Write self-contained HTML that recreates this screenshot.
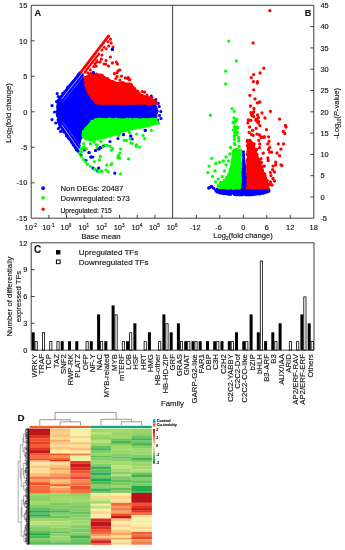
<!DOCTYPE html>
<html><head><meta charset="utf-8"><title>Figure</title>
<style>
html,body{margin:0;padding:0;background:#fff;}
svg{display:block;font-family:'Liberation Sans', Arial, sans-serif;fill:#111;}
text{stroke:#111;stroke-width:0.14px;}
</style></head><body>
<svg width="345" height="550" viewBox="0 0 345 550">
<rect width="345" height="550" fill="#fff"/>
<g id="panelA">
<path d="M57.6 112L59.2 99L80.6 72.4L83.6 78L85.9 88L89.3 95L95 103L100 105.6L154.6 105.6L157.2 111.5L154.6 117.4L96 117.4L91.4 120L82.5 131.5L80 140L77.6 150.5L59.6 124.5Z" fill="#0000ff" stroke="#0000ff" stroke-width="2.6" stroke-linejoin="round"/>
<path d="M57.4 111.5h0M58 109.8h0M58.1 108.6h0M57.6 107.1h0M57.8 105.4h0M58 103.3h0M58.7 102.7h0M58.5 100.2h0M59.4 99.6h0M60.3 97.6h0M61.9 95.8h0M62.8 94.9h0M62.8 93.4h0M64 93.1h0M64.9 91.5h0M66.5 90h0M67.4 88.3h0M67.8 87.2h0M69.6 86.2h0M70.1 85.2h0M71.4 83.5h0M72.9 82.8h0M73.1 81.4h0M74.5 80.5h0M75.8 78.4h0M77.2 76.9h0M77.4 76.6h0M78.1 74.9h0M78.9 73.9h0M81 72.5h0M82.1 74h0M82.9 76.3h0M83.7 77.9h0M84.5 80.3h0M84.3 81.6h0M84.1 83.3h0M85.3 85.4h0M86 86h0M85.7 88.2h0M86.1 89.7h0M87.1 91h0M87.8 93.6h0M88.8 94.6h0M90.1 96.9h0M90.6 97.6h0M92.2 99.5h0M93.5 100.8h0M93.7 101.5h0M94.8 103.5h0M97.3 103.4h0M97.9 104.4h0M99.6 105.6h0M101.7 105.3h0M102.5 105.5h0M104.6 105.7h0M107.1 105.9h0M108.1 105.8h0M109.9 105h0M111.8 106h0M113.4 106h0M114.3 105.5h0M115.5 105.8h0M117.1 105h0M118.9 105.1h0M120.7 105h0M121.8 105.1h0M123.5 105.4h0M125 106.1h0M127.5 105.1h0M128.6 105.4h0M130.3 105.1h0M132.6 106.3h0M133.7 105.6h0M134.7 105h0M136.7 105.3h0M139 105.1h0M139.5 106.2h0M141.8 105.1h0M143.4 104.9h0M145 106.3h0M147.1 105.9h0M147.8 105.4h0M149.3 106h0M151.4 106h0M152.8 105.2h0M155 106.3h0M155.7 107.5h0M156.3 108.9h0M156.2 110h0M157 110.8h0M155.9 112.7h0M155.6 114.7h0M155.9 115.9h0M155.2 118.1h0M153.6 117.2h0M151 117h0M149.3 117h0M148.3 118h0M146.9 117.4h0M145 117.8h0M142.6 117.6h0M142.2 117.8h0M140.3 117.4h0M137.9 117.8h0M136.5 117.8h0M135.7 117.3h0M133.3 118h0M132.1 116.9h0M129.7 116.9h0M129.1 117.8h0M126.4 117.9h0M126 117.6h0M123.5 117.5h0M121.5 116.7h0M121.1 117.6h0M118.8 118h0M117.1 117.9h0M116 117h0M113.6 117.1h0M111.9 117.5h0M110.3 117.3h0M108.5 118h0M107.2 117.3h0M105.9 118h0M104 118h0M102.5 117.4h0M100.9 116.7h0M99.2 117h0M96.9 117.8h0M95.5 117.4h0M94.8 118.3h0M92.7 119.2h0M91.5 120.4h0M89.9 121.4h0M89.1 122.2h0M88.8 123.8h0M87.5 125.5h0M87 126.3h0M85.6 127.7h0M84.5 129.2h0M83.4 130.3h0M82.5 132.1h0M82.3 133.7h0M82.1 134.6h0M81.1 137.2h0M81 137.8h0M79.5 139.9h0M79 141.4h0M78.6 143.7h0M79.2 145.8h0M77.9 147.3h0M78.2 148.3h0M78.1 151.2h0M76.3 149.8h0M75.6 147.7h0M75.4 146.9h0M73.3 144.9h0M72.9 143.4h0M71.5 142h0M71.3 140.2h0M70.1 139.5h0M68.4 137.9h0M68.3 136.8h0M66.6 136.1h0M66.6 134.7h0M64.7 132.4h0M63.7 131.7h0M63.1 129.5h0M62.3 129.2h0M61.9 126.9h0M60.1 126.5h0M59.7 124.8h0M58.7 122.1h0M59.3 120.8h0M58.1 119.8h0M58.6 117.8h0M57.6 116.1h0M57.3 114.3h0M52 105.6h0M52 119.6h0M56.5 101.5h0M55.8 123h0M54.5 112h0M58.2 96.5h0M58.4 128.5h0M60.5 131.5h0M57.2 93.5h0M112.3 49.4h0M93.3 72.6h0M81 155h0M92.8 157h0M98.7 168h0M114.8 173.2h0M93 168h0M97.4 170.9h0M91 157h0M98.8 149h0M100.3 147.7h0M132.2 139h0M130.7 136h0M145.2 130.3h0M123.5 134.6h0M86 160.5h0M89 152.5h0M84.5 150h0M95.5 150.5h0M103.5 146h0M110 141.5h0M118 138.5h0M159.2 106.5h0M159.6 115.5h0M160.8 111.5h0M158.2 103.4h0M157.6 120h0M161 118.5h0M151.3 96.2h0M155.8 99.5h0" stroke="#0000ff" stroke-width="3.2" stroke-linecap="round" fill="none"/>
<path d="M96 119.8L156 119.8L157 122L150 125L141 126.6L130 129L118 132.6L110 136L99 138L91.4 139.5L85.5 138.6L83.2 136.5L83.4 132.5L92 121.6Z" fill="#00ff00" stroke="#00ff00" stroke-width="2.6" stroke-linejoin="round"/>
<path d="M95.9 119.5h0M97.6 120.5h0M98.6 119.2h0M100.5 119.4h0M101.4 119.3h0M102.8 119.3h0M104.7 119.5h0M106.9 119.5h0M108 119.3h0M109.3 119h0M110.6 119h0M112.9 119.9h0M113.5 119.8h0M116.2 119.2h0M117.5 119.7h0M118.5 120.3h0M119.8 119.8h0M121.8 120.6h0M122.7 120.3h0M124.8 120h0M125.8 119.6h0M126.8 119.2h0M128.3 120.2h0M130.1 119.3h0M131.3 120.3h0M134.1 120.1h0M134.7 119.4h0M136.2 119.7h0M137.5 119.7h0M139.1 120.5h0M141.8 119.9h0M142.1 120.5h0M143.7 119.6h0M144.7 119.6h0M147 119.8h0M148 119.8h0M149.2 119.4h0M150.8 119.6h0M152.3 119h0M154.2 119.4h0M156.1 119.8h0M157.4 122.3h0M155.9 123.2h0M154 122.9h0M153.6 123.2h0M151.8 124.6h0M149.3 125.5h0M149.1 125.5h0M147.4 126h0M144.9 125.8h0M144 126.6h0M143 126.9h0M141.1 127.2h0M139.7 127.3h0M137.4 126.5h0M135.7 127.4h0M134.1 128.5h0M133.2 128.5h0M131.8 128.9h0M130 128.2h0M129 129.8h0M127 130h0M125.8 129.7h0M124.4 130.4h0M121.8 130.9h0M121.4 131.2h0M119.9 132.9h0M118 132.4h0M116.4 133.6h0M115.2 134.1h0M113.4 134h0M111 134.9h0M110.4 135.7h0M108.5 135.5h0M106.2 136.2h0M105.6 137.2h0M104 136.8h0M102.2 137.4h0M100.5 137.1h0M99.6 137.5h0M98.2 139h0M95.2 138.5h0M95 139.6h0M92.8 138.8h0M90.9 140.2h0M89 139.3h0M86.9 138.9h0M86.2 138h0M84.9 137.6h0M83.8 136.8h0M82.9 135.1h0M83.4 131.7h0M83.6 131.3h0M85.2 129.8h0M85.7 128.6h0M86.9 128.2h0M87.4 126.8h0M89.7 124.6h0M90.8 124.4h0M91.7 122.5h0M91.8 121.4h0M94.8 120.8h0M107.1 145.4h0M101.3 170.8h0M108.1 171.8h0M136.1 146.5h0M151.3 130.4h0M130.2 139h0M95.2 169.3h0M111.3 150.2h0M118.3 155.5h0M110.2 146.3h0M119.7 158.1h0M128.6 158.9h0M119.9 153.1h0M102.5 147h0M117.9 157.7h0M105.4 145h0M118.4 134.3h0M143 135.5h0M102 171.6h0M96.4 144.9h0M90.4 143.7h0M83.7 143.7h0M130.8 142.9h0M100.8 141.6h0M106.8 165.1h0M82.8 147.7h0M94.1 142.2h0M111 164.6h0M99.4 159.8h0M97.2 147.8h0M112.5 148.7h0M126.4 140.4h0M94.4 161.6h0M81.6 151.6h0M86.5 148.9h0M97.3 144.8h0M144.6 138.7h0M136.6 134h0M124.1 140.3h0M118.6 135.6h0M84.3 147.7h0M100.3 156.4h0M94.5 169.4h0M98 171.4h0M106 170h0M111.9 163.6h0M120.6 173.8h0M120.6 149h0M132 143.3h0M136.5 144.8h0M139.4 147h0M129.3 132.6h0M151 120h0M158.5 123h0M79.5 153.5h0M81.5 156.5h0M83.5 159.5h0M85.6 162h0M87.5 164.5h0M90.5 166.5h0M80.8 148.8h0" stroke="#00ff00" stroke-width="3.2" stroke-linecap="round" fill="none"/>
<path d="M84.8 78L87.1 88L90.5 95L96 102.4L100 103.2L153 103.2L154 100.6L151.5 99.4L145.5 97L139.1 94.5L134.6 89L130.5 84.5L122 83.2L114.6 83L107.6 79.5L100.7 75L95 74.5L90 75.5L87 77Z" fill="#ff0000" stroke="#ff0000" stroke-width="2.6" stroke-linejoin="round"/>
<path d="M84.6 77.9h0M85.8 80.5h0M85.3 80.8h0M86.3 82.5h0M85.5 85.3h0M86.6 86.8h0M86.9 88.6h0M87.7 88.9h0M87.7 90.9h0M89.4 92.9h0M89.2 93.8h0M90.3 95h0M90.9 95.9h0M92.4 98.1h0M92.6 98.7h0M94.7 100.7h0M94.6 100.6h0M96.7 103.2h0M98 102.1h0M100.7 103h0M102.2 103.4h0M103.5 102.7h0M105 102.8h0M105.9 103.8h0M108.1 102.7h0M108.6 103h0M110.6 103h0M111.5 102.8h0M114 103.8h0M114.4 103.3h0M117.1 102.5h0M118.7 102.6h0M119.8 103.3h0M121.4 102.9h0M122.6 103.3h0M124.1 103.5h0M125.7 103.1h0M126.5 103.4h0M128.8 102.8h0M130.7 103.6h0M131.7 102.7h0M133.3 102.6h0M134.2 103.1h0M135.7 103.1h0M137.9 102.5h0M139.6 102.5h0M141.3 103.6h0M142.4 102.5h0M143.9 103h0M146.1 102.6h0M147.5 104h0M148.8 103.7h0M149.5 104h0M151.5 103.9h0M153.7 102.7h0M154.5 101.3h0M150.8 99.2h0M150.4 98.3h0M149.1 97.8h0M147.5 97h0M145.5 97.7h0M143.4 96h0M142.3 95.5h0M140 94.6h0M138.6 95.2h0M138.3 93.8h0M136.3 92.2h0M135.1 90.4h0M134.8 88.8h0M134.2 88h0M132.7 87.4h0M130.9 86.4h0M130.7 84.3h0M129.3 83.9h0M127.9 84.1h0M125.2 84.1h0M123.6 82.9h0M122.4 82.5h0M120.7 82.8h0M118.5 83.9h0M116.6 83.3h0M114.3 82.2h0M112.5 81.7h0M112 81.5h0M110.4 81.5h0M108.4 79.8h0M107.8 78.7h0M105.4 78.4h0M104.2 77.5h0M103 76.9h0M102.2 75.4h0M100.9 75h0M98.2 75.5h0M96.5 74.1h0M94.4 74.7h0M93.9 75.3h0M91.5 74.8h0M89.2 75.7h0M88.6 76h0M87.2 76.9h0M80.9 72h0M82.1 70.5h0M83.2 69h0M84.4 67.5h0M85.5 66h0M86.7 64.5h0M87.8 63h0M89 61.5h0M90.1 60h0M91.3 58.6h0M92.4 57.1h0M93.6 55.6h0M94.7 54.1h0M95.9 52.6h0M97 51.1h0M98.2 49.6h0M99.3 48.1h0M100.5 46.6h0M101.6 45.1h0M102.8 43.6h0M103.9 42.1h0M105.1 40.6h0M106.2 39.1h0M107.4 37.6h0M108.5 36.1h0M85.1 72.2h0M85.8 70.8h0M86.8 69.1h0M88.2 67.4h0M89.1 66.2h0M90.3 64.6h0M92 62.9h0M92.7 61.7h0M94 60.2h0M95.3 58.4h0M96.2 57h0M97.2 55.8h0M98.8 54.2h0M102 49.9h0M103.9 47h0M107.9 41.6h0M110.4 39.2h0M87.7 72.8h0M90.3 69.8h0M95 63.7h0M96.7 60.7h0M101.9 55h0M106.1 48.7h0M108.6 46h0M111.1 42.9h0M90.6 73.7h0M96.1 66.1h0M101.4 59.2h0M129.9 79.7h0M144.7 92.1h0M112.4 62.9h0M119 70.3h0M121.5 76h0M117.1 72.7h0M105.8 64.1h0M115.8 78.5h0M131.2 84.4h0M139.3 93.6h0M142.2 91.6h0M93.7 66.6h0M125.4 77.9h0M128.4 78.9h0M119.9 70h0M117.4 64.1h0M128.3 77.5h0M129.5 79.7h0M117.1 76.6h0M114.4 73.7h0M116.3 62h0M90.9 59h0M110.4 57h0M118 70.9h0M128 78.7h0M137.8 91h0M113 47h0M108.5 66h0M104 64h0M120 80h0M133 88h0M147 95h0M152 97.5h0M100 62h0M97 62h0M106 60.5h0M155.8 101.5h0M156.5 104h0" stroke="#ff0000" stroke-width="3.2" stroke-linecap="round" fill="none"/>
<path d="M112.3 49.4h0M93.3 72.6h0M98.8 149h0M100.3 147.7h0M91 157h0M130.7 136h0M123.5 134.6h0M145.2 130.3h0M89 152.5h0M95.5 150.5h0" stroke="#0000ff" stroke-width="3.2" stroke-linecap="round" fill="none"/>
<path d="M61.5 99.2L82.4 73" stroke="#fff" stroke-width="0.7" opacity="0.95"/>
<path d="M62.5 102.5L84.6 74.5" stroke="#fff" stroke-width="0.5" opacity="0.6"/>
<path d="M82.4 73L108.9 38.6" stroke="#fff" stroke-width="0.7" opacity="0.95"/>
<path d="M85.6 73.6L110.5 41.3" stroke="#fff" stroke-width="0.6" opacity="0.8"/>
<path d="M61.6 124.6L79.2 149.8" stroke="#fff" stroke-width="0.7" opacity="0.9"/>
<path d="M62.6 121.6L80.6 147" stroke="#fff" stroke-width="0.5" opacity="0.5"/>
<g stroke="#2a2a2a" stroke-width="0.9" fill="none">
<path d="M31.2 5.3 V218.2 H172.6 V5.3 Z"/>
<path d="M31.2 40.8h3.4M31.2 76.2h3.4M31.2 111.8h3.4M31.2 147.2h3.4M31.2 182.8h3.4M48.9 218.2v-3.4M66.5 218.2v-3.4M84.2 218.2v-3.4M101.9 218.2v-3.4M119.6 218.2v-3.4M137.2 218.2v-3.4M154.9 218.2v-3.4"/>
</g>
<text x="27.3" y="8" font-size="7.4" text-anchor="end" font-weight="normal">15</text>
<text x="27.3" y="43.5" font-size="7.4" text-anchor="end" font-weight="normal">10</text>
<text x="27.3" y="79" font-size="7.4" text-anchor="end" font-weight="normal">5</text>
<text x="27.3" y="114.5" font-size="7.4" text-anchor="end" font-weight="normal">0</text>
<text x="27.3" y="149.9" font-size="7.4" text-anchor="end" font-weight="normal">-5</text>
<text x="27.3" y="185.4" font-size="7.4" text-anchor="end" font-weight="normal">-10</text>
<text x="27.3" y="220.9" font-size="7.4" text-anchor="end" font-weight="normal">-15</text>
<text x="30.7" y="230.3" font-size="7.4" text-anchor="middle">10<tspan font-size="4.6" dy="-3">-2</tspan></text>
<text x="48.4" y="230.3" font-size="7.4" text-anchor="middle">10<tspan font-size="4.6" dy="-3">-1</tspan></text>
<text x="66" y="230.3" font-size="7.4" text-anchor="middle">10<tspan font-size="4.6" dy="-3">0</tspan></text>
<text x="83.7" y="230.3" font-size="7.4" text-anchor="middle">10<tspan font-size="4.6" dy="-3">1</tspan></text>
<text x="101.4" y="230.3" font-size="7.4" text-anchor="middle">10<tspan font-size="4.6" dy="-3">2</tspan></text>
<text x="119.1" y="230.3" font-size="7.4" text-anchor="middle">10<tspan font-size="4.6" dy="-3">3</tspan></text>
<text x="136.8" y="230.3" font-size="7.4" text-anchor="middle">10<tspan font-size="4.6" dy="-3">4</tspan></text>
<text x="154.4" y="230.3" font-size="7.4" text-anchor="middle">10<tspan font-size="4.6" dy="-3">5</tspan></text>
<text x="172.1" y="230.3" font-size="7.4" text-anchor="middle">10<tspan font-size="4.6" dy="-3">6</tspan></text>
<text x="0" y="0" font-size="7.6" text-anchor="middle" transform="translate(10.8 113) rotate(-90)">Log<tspan font-size="4.6" dy="1.6">2</tspan><tspan dy="-1.6">(fold change)</tspan></text>
<text x="101" y="238.9" font-size="7.75" text-anchor="middle" font-weight="normal">Base mean</text>
<text x="34.6" y="16.2" font-size="9.2" text-anchor="start" font-weight="bold" stroke="#111" stroke-width="0.25">A</text>
<path d="M43.1 188.2h0" stroke="#0000ff" stroke-width="3.7" stroke-linecap="round" fill="none"/>
<path d="M43.1 197.8h0" stroke="#00ff00" stroke-width="3.7" stroke-linecap="round" fill="none"/>
<path d="M43.1 209.2h0" stroke="#ff0000" stroke-width="3.2" stroke-linecap="round" fill="none"/>
<text x="60.5" y="191" font-size="7.75" text-anchor="start" font-weight="normal">Non DEGs: 20487</text>
<text x="60.5" y="200.6" font-size="7.75" text-anchor="start" font-weight="normal">Downregulated: 573</text>
<text x="60.5" y="212.5" font-size="6.7" text-anchor="start" font-weight="normal">Upregulated: 715</text>
</g>
<g id="panelB">
<ellipse cx="242.4" cy="190.5" rx="26.6" ry="4.3" fill="#0000ff"/>
<path d="M240.4 188L243.3 153.5L244.1 153.5L247.6 188Z" fill="#0000ff" stroke="#0000ff" stroke-width="1.2" stroke-linejoin="round"/>
<path d="M242.6 186.5h0M216.7 191.6h0M251 186.8h0M245.1 194.6h0M261.6 188.1h0M216.8 189.9h0M220 188.2h0M251.8 194.5h0M234.5 186.5h0M218.4 188.8h0M216 190h0M264.9 191.5h0M223.7 193.6h0M225.9 187.6h0M256.6 193.9h0M227.9 193.9h0M268.8 191.1h0M266.6 190.3h0M216.9 190.9h0M240.6 194.5h0M221.2 192.2h0M245 186.6h0M268.1 189.5h0M268.1 191.5h0M253.6 194.4h0M266.7 191.8h0M260.2 187.5h0M265.1 189.2h0M265.8 192.1h0M221.2 193.1h0M267.9 189.4h0M219.2 188.9h0M266.6 189.4h0M222.1 193.1h0M255.1 193.7h0M268.8 190.3h0M268 191.5h0M228 193.6h0M262.5 188.3h0M266 191.7h0M236.1 186.5h0M268.9 190.1h0M257.6 193.7h0M265.7 189h0M234.7 194.4h0M243.7 186.2h0M230.6 194.3h0M260.8 193.4h0M255.3 194.2h0M258 193.7h0M267.3 190.8h0M251.4 194.5h0M266.2 188.6h0M264.5 188.9h0M262.7 187.7h0M217.3 191.9h0M264.3 188.8h0M224.4 187.5h0M229.3 193.8h0M217.3 191.1h0M258.9 193.8h0M265.8 191.9h0M217.3 189.1h0M260.5 187.4h0M219.8 192.8h0M239.2 194.4h0M229 194.2h0M216.2 190.7h0M264.2 188h0M268.8 189.9h0M262.3 188h0M248.7 194.6h0M236.4 194.7h0M250.2 194.5h0M265.8 190.3h0M266.1 188.6h0M236.5 194.3h0M265.7 191.9h0M236 194.2h0M266.8 190.9h0M228.1 194.1h0M266.8 190.5h0M216.3 189.8h0M220.4 192h0M247.5 194.5h0M259.5 193.8h0M245.6 186.5h0M251.1 194.6h0M264.1 192.6h0M216.1 190.6h0M249.3 194.5h0M236 186.7h0M219.4 188.4h0M265.2 192.1h0M221.5 192.7h0M265.4 191.9h0M230 193.9h0M259.4 187.4h0M266.2 190.9h0M218.5 191.1h0M239.7 194.8h0M255.2 186.8h0M255.9 194.1h0M220.4 188.1h0M216.6 190h0M216 190.1h0M237 186.6h0M259.8 187.3h0M236.1 186.4h0M242.6 186.2h0M258.9 187.8h0M216.7 190.6h0M217.2 189.7h0M265.8 191h0M246.8 194.7h0M263.5 193.1h0M253.3 186.6h0M263 192.8h0M251.4 194.5h0M221.7 188.1h0M217.6 189.9h0M261.7 192.9h0M236.9 186.3h0M260.9 193.4h0M216 190.5h0M261.2 193.4h0M259 193.6h0M259.5 187.2h0M220.1 188.7h0M254.9 193.9h0M266.5 188.9h0M221 192.4h0M216.6 189.8h0M265.4 189.1h0M228.4 194.1h0M229.2 194.1h0M266.8 190h0M263.3 188.4h0M257.7 187h0M218.9 190.1h0M266.6 188.8h0M220 192.4h0M225.5 193.6h0M266 192.3h0M215.8 190.4h0M257.5 193.4h0M246.4 186.7h0M226 187.6h0M260.4 187.9h0M267.1 191.4h0M239.9 194.5h0M238.6 194.6h0M265 188.6h0M242.3 194.7h0M220.7 192.1h0M236.3 194.6h0M226.5 187.1h0M222.8 188.4h0M216.1 190.1h0M217.3 191.4h0M208.7 188h0M211.5 186.3h0M210 187.3h0M213.5 188.2h0M243.4 151.8h0M243.2 155h0" stroke="#0000ff" stroke-width="3.3" stroke-linecap="round" fill="none"/>
<path d="M240 187.5L240 150L234.2 149.5L232.8 159.6L231.5 167.4L228.9 175.2L225 180.4L218.6 185.8L218.6 187.5Z" fill="#00ff00" stroke="#00ff00" stroke-width="2.2" stroke-linejoin="round"/>
<path d="M239.4 186.9h0M239.4 185.7h0M239.9 184.3h0M239.6 182.5h0M240.1 182.3h0M240.2 180.4h0M240.2 178.4h0M240.3 177.3h0M240.1 176.1h0M240 174.2h0M239.6 172.6h0M240 171.4h0M240.1 169.4h0M239.8 169.3h0M239.6 167.4h0M240 165.5h0M240.8 164.1h0M240.4 162.4h0M239.3 162.1h0M239.9 159.4h0M239.8 158.6h0M240.4 156.6h0M239.6 156.5h0M240.4 153.8h0M239.7 152.6h0M240.3 151.6h0M240.6 150.5h0M238.6 150.3h0M237.5 150.2h0M235.6 150.1h0M234.5 150.2h0M233.4 151.5h0M233 152.8h0M233.7 153.8h0M234.1 155.4h0M233.1 157.2h0M233.6 158.3h0M232.6 159.5h0M232.5 161.5h0M231.9 162.5h0M232.1 164.1h0M231.5 166.3h0M232.1 167.4h0M230.9 168.5h0M230.1 170h0M230.1 172.2h0M228.8 174.3h0M228.6 175.7h0M228.5 177.2h0M226.5 177.7h0M226.6 178.3h0M224.3 180.5h0M223.7 182.2h0M222.9 182.6h0M222 183.7h0M219.9 185h0M218.4 185.6h0M218.8 187.3h0M220.7 187.8h0M221.5 186.9h0M222.7 187.3h0M224.4 187.6h0M226.3 188.2h0M227.1 187.4h0M228.8 188.3h0M229.8 187.5h0M231.9 187h0M232.6 188.3h0M234.8 187.5h0M235.1 188.1h0M237.5 188h0M239.4 188.1h0M238.6 137.3h0M235.1 131.2h0M236.3 127.7h0M235 133.9h0M238.7 138.7h0M234.2 136.4h0M234.4 123h0M236.6 134.7h0M235.3 128.3h0M236 121.2h0M239.1 146.5h0M234.9 132.1h0M236.8 119.4h0M237.2 128.1h0M237.8 127.7h0M234.8 133.9h0M234.8 130.5h0M235.9 127.9h0M234.4 143.4h0M236.8 149.1h0M234.8 144.4h0M234.4 139.3h0M234.4 126.6h0M237.4 132.2h0M238.7 141.1h0M228.8 41.1h0M236.4 60.9h0M225.7 71.2h0M225.7 84h0M232.1 108.6h0M234 117.8h0M233 122.4h0M210.4 115.2h0M234.2 111.3h0M235.5 120.4h0M237.3 127h0M233.5 130h0M211.7 158.3h0M209.1 166.1h0M207.8 172.6h0M215.7 163.5h0M219.6 162.2h0M223.5 160.9h0M226.1 157h0M226.1 164.8h0M218.3 179.1h0M222.2 176.5h0M212.5 176.5h0M215 171h0M228.5 161h0M229.8 154h0M215.5 181.8h0M224.5 171h0M220.5 182.5h0M230.5 147.5h0" stroke="#00ff00" stroke-width="3.3" stroke-linecap="round" fill="none"/>
<path d="M248 187.5L248 141L250.3 140.5L253.3 146.5L255.8 152.5L258.2 159L260.7 166L263.2 173L266.6 180.4L267.8 187.5Z" fill="#ff0000" stroke="#ff0000" stroke-width="2.2" stroke-linejoin="round"/>
<path d="M247.5 188.2h0M248 185.7h0M247.9 184.1h0M248.3 182.9h0M248.6 182h0M247.8 180h0M248.2 178.6h0M248.6 177h0M248 176.3h0M247.6 175.3h0M247.8 173.7h0M248.1 171.7h0M247.8 169.9h0M247.5 169.7h0M247.7 168h0M247.4 166.5h0M247.8 165h0M247.7 162.9h0M247.7 161.7h0M247.4 161.1h0M247.7 159.2h0M248.7 158.3h0M248.6 157.1h0M247.4 154.7h0M247.2 154h0M248.3 152h0M247.9 151.1h0M248.3 149.1h0M248.6 147.8h0M248.2 146.1h0M247.4 145.9h0M248.4 144.2h0M247.3 141.7h0M247.5 140.5h0M250 140.3h0M250.3 141.7h0M252 143h0M253.1 145.1h0M253.6 146.1h0M253.8 148.3h0M254.3 148.7h0M255.7 151.4h0M255.5 151.8h0M257 154.3h0M256.3 155.3h0M257 157.8h0M257.7 159.7h0M259.1 159.7h0M259.5 161.6h0M260.1 163.7h0M259.8 163.9h0M261.4 165.9h0M261.9 167.7h0M262.1 169.3h0M262.4 170.1h0M262 171.9h0M263.1 173h0M264.6 173.9h0M265 175.2h0M265.6 177.9h0M265.5 179h0M267.4 180.6h0M266.9 181.4h0M266.4 183h0M267.2 184.2h0M267.3 185.5h0M268.1 187.8h0M266 187.1h0M265 187.4h0M264.3 187.3h0M261.8 188.1h0M260.2 187.6h0M259 188h0M258 187.9h0M256 187.8h0M255.2 187.4h0M254.1 188h0M251.6 187.2h0M250.6 187h0M248.7 187.1h0M258.5 117.7h0M258.2 122.9h0M268.2 160.5h0M253.3 112.8h0M267.9 158h0M259.7 144h0M258.3 123h0M252.1 115.8h0M271.5 152.2h0M247.9 122.8h0M256.6 149.5h0M261.5 137h0M269.7 147.3h0M253.6 116.5h0M259.6 147.7h0M250.1 144.9h0M257.5 115h0M261.1 158.6h0M257.1 121.6h0M253.2 135.3h0M252.6 130.4h0M269.7 152.2h0M264.4 166.1h0M268.4 149.5h0M256.8 119.8h0M255.9 120.3h0M264.4 136.7h0M268.6 136.8h0M249.1 132.4h0M251.5 134.5h0M257 134.1h0M248.3 119.9h0M254.1 144h0M261.4 162.4h0M263.2 153.2h0M261.1 137.6h0M259.4 135h0M256 119.2h0M258.7 140.3h0M251.5 114.5h0M248.9 142.9h0M253.7 111.6h0M269.9 10.7h0M253.1 42.9h0M263.8 68.2h0M260.1 73h0M253.7 74.6h0M251.3 77.6h0M253.4 81.6h0M257.4 81.6h0M257.4 83h0M253.7 89.8h0M249.8 95.3h0M255 98.9h0M259.8 102h0M257.4 102.9h0M286.1 127h0M284.8 133.5h0M283.5 143.9h0M278.3 143.9h0M280.9 149.1h0M277 153h0M279.6 155.7h0M280.9 164.8h0M275.7 162.2h0M273 166.1h0M270.4 172.6h0M267.8 143.9h0M269.1 141.3h0M263.9 137.4h0M266.5 129.6h0M260 125.7h0M256.1 128.3h0M258.7 121.7h0M250.9 120.4h0M249.6 127h0M250.9 112.6h0M270.4 111.3h0M279.6 119.1h0M285.4 125.4h0M283.3 131.5h0M275.6 165h0M281.7 165.5h0M272.6 169.6h0M271 175.6h0M274.5 172h0M273 178.5h0M270.5 182h0M250.5 106h0M254 108.5h0M252.5 115h0M265 118h0M262 113h0M272 185h0M274.5 181h0M269.5 184.5h0" stroke="#ff0000" stroke-width="3.3" stroke-linecap="round" fill="none"/>
<g stroke="#2a2a2a" stroke-width="0.9" fill="none">
<path d="M172.6 5.3 H313.8 V218.2 H172.6"/>
<path d="M313.8 26.6h-3.4M313.8 47.9h-3.4M313.8 69.2h-3.4M313.8 90.5h-3.4M313.8 111.8h-3.4M313.8 133.1h-3.4M313.8 154.4h-3.4M313.8 175.7h-3.4M313.8 197h-3.4M196.4 218.2v-3.4M219.8 218.2v-3.4M243.3 218.2v-3.4M266.8 218.2v-3.4M290.2 218.2v-3.4"/>
</g>
<text x="320.4" y="8" font-size="7.4" text-anchor="start" font-weight="normal">45</text>
<text x="320.4" y="29.3" font-size="7.4" text-anchor="start" font-weight="normal">40</text>
<text x="320.4" y="50.6" font-size="7.4" text-anchor="start" font-weight="normal">35</text>
<text x="320.4" y="71.9" font-size="7.4" text-anchor="start" font-weight="normal">30</text>
<text x="320.4" y="93.2" font-size="7.4" text-anchor="start" font-weight="normal">25</text>
<text x="320.4" y="114.5" font-size="7.4" text-anchor="start" font-weight="normal">20</text>
<text x="320.4" y="135.8" font-size="7.4" text-anchor="start" font-weight="normal">15</text>
<text x="320.4" y="157.1" font-size="7.4" text-anchor="start" font-weight="normal">10</text>
<text x="320.4" y="178.4" font-size="7.4" text-anchor="start" font-weight="normal">5</text>
<text x="320.4" y="199.7" font-size="7.4" text-anchor="start" font-weight="normal">0</text>
<text x="320.4" y="221" font-size="7.4" text-anchor="start" font-weight="normal">-5</text>
<text x="195.2" y="230.3" font-size="7.4" text-anchor="middle" font-weight="normal">-12</text>
<text x="218.6" y="230.3" font-size="7.4" text-anchor="middle" font-weight="normal">-6</text>
<text x="243.3" y="230.3" font-size="7.4" text-anchor="middle" font-weight="normal">0</text>
<text x="266.8" y="230.3" font-size="7.4" text-anchor="middle" font-weight="normal">6</text>
<text x="290.2" y="230.3" font-size="7.4" text-anchor="middle" font-weight="normal">12</text>
<text x="313.7" y="230.3" font-size="7.4" text-anchor="middle" font-weight="normal">18</text>
<text x="0" y="0" font-size="7.6" text-anchor="middle" transform="translate(243 238.0)">Log<tspan font-size="4.6" dy="1.6">2</tspan><tspan dy="-1.6">(fold change)</tspan></text>
<text x="0" y="0" font-size="7.6" text-anchor="middle" transform="translate(339.2 113.5) rotate(-90)">-Log<tspan font-size="4.6" dy="1.6">10</tspan><tspan dy="-1.6">(</tspan><tspan font-style="italic">P</tspan>-value)</text>
<text x="304.8" y="15.8" font-size="9.2" text-anchor="start" font-weight="bold" stroke="#111" stroke-width="0.25">B</text>
</g>
<g id="panelC">
<rect x="31.7" y="332.3" width="3" height="17.9" fill="#000"/>
<rect x="35.1" y="341.6" width="2.2" height="8.5" fill="#fff" stroke="#000" stroke-width="0.8"/>
<text x="0" y="0" font-size="7.8" text-anchor="end" transform="translate(36.8 354.1) rotate(-90)">WRKY</text>
<rect x="42.4" y="332.7" width="2.2" height="17.5" fill="#fff" stroke="#000" stroke-width="0.8"/>
<text x="0" y="0" font-size="7.8" text-anchor="end" transform="translate(44 354.1) rotate(-90)">TRAF</text>
<rect x="49.7" y="341.6" width="2.2" height="8.5" fill="#fff" stroke="#000" stroke-width="0.8"/>
<text x="0" y="0" font-size="7.8" text-anchor="end" transform="translate(51.3 354.1) rotate(-90)">TCP</text>
<rect x="56.9" y="341.6" width="2.2" height="8.5" fill="#fff" stroke="#000" stroke-width="0.8"/>
<text x="0" y="0" font-size="7.8" text-anchor="end" transform="translate(58.5 354.1) rotate(-90)">TAZ</text>
<rect x="60.7" y="341.2" width="3" height="8.9" fill="#000"/>
<text x="0" y="0" font-size="7.8" text-anchor="end" transform="translate(65.8 354.1) rotate(-90)">SNF2</text>
<rect x="68" y="341.2" width="3" height="8.9" fill="#000"/>
<text x="0" y="0" font-size="7.8" text-anchor="end" transform="translate(73.1 354.1) rotate(-90)">RWP-RK</text>
<rect x="75.3" y="341.2" width="3" height="8.9" fill="#000"/>
<text x="0" y="0" font-size="7.8" text-anchor="end" transform="translate(80.3 354.1) rotate(-90)">PLATZ</text>
<rect x="86" y="341.6" width="2.2" height="8.5" fill="#fff" stroke="#000" stroke-width="0.8"/>
<text x="0" y="0" font-size="7.8" text-anchor="end" transform="translate(87.6 354.1) rotate(-90)">OFP</text>
<rect x="89.8" y="341.2" width="3" height="8.9" fill="#000"/>
<text x="0" y="0" font-size="7.8" text-anchor="end" transform="translate(94.8 354.1) rotate(-90)">NF-Y</text>
<rect x="97.1" y="314.4" width="3" height="35.8" fill="#000"/>
<rect x="100.5" y="341.6" width="2.2" height="8.5" fill="#fff" stroke="#000" stroke-width="0.8"/>
<text x="0" y="0" font-size="7.8" text-anchor="end" transform="translate(102.1 354.1) rotate(-90)">NAC</text>
<rect x="104.3" y="341.2" width="3" height="8.9" fill="#000"/>
<text x="0" y="0" font-size="7.8" text-anchor="end" transform="translate(109.4 354.1) rotate(-90)">MYB-related</text>
<rect x="111.6" y="305.4" width="3" height="44.8" fill="#000"/>
<rect x="115" y="314.8" width="2.2" height="35.4" fill="#fff" stroke="#000" stroke-width="0.8"/>
<text x="0" y="0" font-size="7.8" text-anchor="end" transform="translate(116.6 354.1) rotate(-90)">MYB</text>
<rect x="122.3" y="341.6" width="2.2" height="8.5" fill="#fff" stroke="#000" stroke-width="0.8"/>
<text x="0" y="0" font-size="7.8" text-anchor="end" transform="translate(123.9 354.1) rotate(-90)">mTERF</text>
<rect x="126.1" y="341.2" width="3" height="8.9" fill="#000"/>
<rect x="129.6" y="332.7" width="2.2" height="17.5" fill="#fff" stroke="#000" stroke-width="0.8"/>
<text x="0" y="0" font-size="7.8" text-anchor="end" transform="translate(131.2 354.1) rotate(-90)">LOB</text>
<rect x="133.4" y="323.3" width="3" height="26.9" fill="#000"/>
<text x="0" y="0" font-size="7.8" text-anchor="end" transform="translate(138.4 354.1) rotate(-90)">HSF</text>
<rect x="144.1" y="341.6" width="2.2" height="8.5" fill="#fff" stroke="#000" stroke-width="0.8"/>
<text x="0" y="0" font-size="7.8" text-anchor="end" transform="translate(145.7 354.1) rotate(-90)">HRT</text>
<rect x="147.9" y="332.3" width="3" height="17.9" fill="#000"/>
<text x="0" y="0" font-size="7.8" text-anchor="end" transform="translate(152.9 354.1) rotate(-90)">HMG</text>
<rect x="158.6" y="341.6" width="2.2" height="8.5" fill="#fff" stroke="#000" stroke-width="0.8"/>
<text x="0" y="0" font-size="7.8" text-anchor="end" transform="translate(160.2 354.1) rotate(-90)">HB-other</text>
<rect x="162.4" y="314.4" width="3" height="35.8" fill="#000"/>
<rect x="165.9" y="323.7" width="2.2" height="26.5" fill="#fff" stroke="#000" stroke-width="0.8"/>
<text x="0" y="0" font-size="7.8" text-anchor="end" transform="translate(167.5 354.1) rotate(-90)">HB-HD-ZIP</text>
<rect x="169.7" y="332.3" width="3" height="17.9" fill="#000"/>
<text x="0" y="0" font-size="7.8" text-anchor="end" transform="translate(174.7 354.1) rotate(-90)">GRF</text>
<rect x="176.9" y="323.3" width="3" height="26.9" fill="#000"/>
<rect x="180.4" y="341.6" width="2.2" height="8.5" fill="#fff" stroke="#000" stroke-width="0.8"/>
<text x="0" y="0" font-size="7.8" text-anchor="end" transform="translate(182 354.1) rotate(-90)">GRAS</text>
<rect x="184.2" y="341.2" width="3" height="8.9" fill="#000"/>
<rect x="187.7" y="341.6" width="2.2" height="8.5" fill="#fff" stroke="#000" stroke-width="0.8"/>
<text x="0" y="0" font-size="7.8" text-anchor="end" transform="translate(189.3 354.1) rotate(-90)">GNAT</text>
<rect x="191.5" y="341.2" width="3" height="8.9" fill="#000"/>
<rect x="194.9" y="341.6" width="2.2" height="8.5" fill="#fff" stroke="#000" stroke-width="0.8"/>
<text x="0" y="0" font-size="7.8" text-anchor="end" transform="translate(196.5 354.1) rotate(-90)">GARP-G2-like</text>
<rect x="198.7" y="341.2" width="3" height="8.9" fill="#000"/>
<text x="0" y="0" font-size="7.8" text-anchor="end" transform="translate(203.8 354.1) rotate(-90)">FAR1</text>
<rect x="206" y="341.2" width="3" height="8.9" fill="#000"/>
<text x="0" y="0" font-size="7.8" text-anchor="end" transform="translate(211 354.1) rotate(-90)">DBP</text>
<rect x="213.2" y="341.2" width="3" height="8.9" fill="#000"/>
<rect x="216.7" y="341.6" width="2.2" height="8.5" fill="#fff" stroke="#000" stroke-width="0.8"/>
<text x="0" y="0" font-size="7.8" text-anchor="end" transform="translate(218.3 354.1) rotate(-90)">C3H</text>
<rect x="220.5" y="341.2" width="3" height="8.9" fill="#000"/>
<text x="0" y="0" font-size="7.8" text-anchor="end" transform="translate(225.6 354.1) rotate(-90)">C2H2</text>
<rect x="227.8" y="341.2" width="3" height="8.9" fill="#000"/>
<rect x="231.2" y="341.6" width="2.2" height="8.5" fill="#fff" stroke="#000" stroke-width="0.8"/>
<text x="0" y="0" font-size="7.8" text-anchor="end" transform="translate(232.8 354.1) rotate(-90)">C2C2-YABBY</text>
<rect x="235" y="332.3" width="3" height="17.9" fill="#000"/>
<text x="0" y="0" font-size="7.8" text-anchor="end" transform="translate(240.1 354.1) rotate(-90)">C2C2-Dof</text>
<rect x="242.3" y="341.2" width="3" height="8.9" fill="#000"/>
<rect x="245.7" y="341.6" width="2.2" height="8.5" fill="#fff" stroke="#000" stroke-width="0.8"/>
<text x="0" y="0" font-size="7.8" text-anchor="end" transform="translate(247.3 354.1) rotate(-90)">C2C2-CO-like</text>
<rect x="249.6" y="314.4" width="3" height="35.8" fill="#000"/>
<text x="0" y="0" font-size="7.8" text-anchor="end" transform="translate(254.6 354.1) rotate(-90)">bZIP</text>
<rect x="256.8" y="332.3" width="3" height="17.9" fill="#000"/>
<rect x="260.3" y="261.1" width="2.2" height="89.1" fill="#fff" stroke="#000" stroke-width="0.8"/>
<text x="0" y="0" font-size="7.8" text-anchor="end" transform="translate(261.9 354.1) rotate(-90)">bHLH</text>
<rect x="264.1" y="341.2" width="3" height="8.9" fill="#000"/>
<text x="0" y="0" font-size="7.8" text-anchor="end" transform="translate(269.1 354.1) rotate(-90)">B3-ARF</text>
<rect x="271.3" y="332.3" width="3" height="17.9" fill="#000"/>
<rect x="274.8" y="341.6" width="2.2" height="8.5" fill="#fff" stroke="#000" stroke-width="0.8"/>
<text x="0" y="0" font-size="7.8" text-anchor="end" transform="translate(276.4 354.1) rotate(-90)">B3</text>
<rect x="278.6" y="323.3" width="3" height="26.9" fill="#000"/>
<text x="0" y="0" font-size="7.8" text-anchor="end" transform="translate(283.7 354.1) rotate(-90)">AUX/IAA</text>
<rect x="289.3" y="341.6" width="2.2" height="8.5" fill="#fff" stroke="#000" stroke-width="0.8"/>
<text x="0" y="0" font-size="7.8" text-anchor="end" transform="translate(290.9 354.1) rotate(-90)">ARID</text>
<rect x="296.6" y="341.6" width="2.2" height="8.5" fill="#fff" stroke="#000" stroke-width="0.8"/>
<text x="0" y="0" font-size="7.8" text-anchor="end" transform="translate(298.2 354.1) rotate(-90)">AP2/ERF-RAV</text>
<rect x="300.4" y="314.4" width="3" height="35.8" fill="#000"/>
<rect x="303.8" y="296.9" width="2.2" height="53.3" fill="#fff" stroke="#000" stroke-width="0.8"/>
<text x="0" y="0" font-size="7.8" text-anchor="end" transform="translate(305.4 354.1) rotate(-90)">AP2/ERF-ERF</text>
<rect x="307.7" y="323.3" width="3" height="26.9" fill="#000"/>
<rect x="311.1" y="341.6" width="2.2" height="8.5" fill="#fff" stroke="#000" stroke-width="0.8"/>
<text x="0" y="0" font-size="7.8" text-anchor="end" transform="translate(312.7 354.1) rotate(-90)">Others</text>
<g stroke="#2a2a2a" stroke-width="0.9" fill="none">
<path d="M31.2 242.8 V350.2 H314 V242.8 Z"/>
<path d="M31.2 323.3h3.4M31.2 296.5h3.4M31.2 269.6h3.4"/>
</g>
<text x="27.3" y="352.9" font-size="7.4" text-anchor="end" font-weight="normal">0</text>
<text x="27.3" y="326" font-size="7.4" text-anchor="end" font-weight="normal">3</text>
<text x="27.3" y="299.2" font-size="7.4" text-anchor="end" font-weight="normal">6</text>
<text x="27.3" y="272.3" font-size="7.4" text-anchor="end" font-weight="normal">9</text>
<text x="27.3" y="245.5" font-size="7.4" text-anchor="end" font-weight="normal">12</text>
<text x="0" y="0" font-size="7.8" text-anchor="middle" transform="translate(11.6 296.5) rotate(-90)">Number of differentially</text>
<text x="0" y="0" font-size="7.8" text-anchor="middle" transform="translate(20.6 296.5) rotate(-90)">expressed TFs</text>
<text x="33.9" y="253.3" font-size="10" text-anchor="start" font-weight="bold" stroke="#111" stroke-width="0.25">C</text>
<rect x="56.0" y="250.1" width="4.4" height="4.4" fill="#000"/>
<rect x="56.4" y="260.0" width="3.7" height="3.7" fill="#fff" stroke="#000" stroke-width="0.95"/>
<text x="78.8" y="255.1" font-size="8" text-anchor="start" font-weight="normal">Upregulated TFs</text>
<text x="78.8" y="264.8" font-size="8" text-anchor="start" font-weight="normal">Downregulated TFs</text>
<text x="172.4" y="406.4" font-size="7.8" text-anchor="middle" font-weight="normal">Family</text>
</g>
<g id="panelD">
<rect x="29.6" y="428.5" width="20.5" height="6.5" fill="#C0141C"/>
<rect x="29.6" y="434.9" width="20.5" height="3.5" fill="#E2341F"/>
<rect x="29.6" y="438.2" width="20.5" height="3.3" fill="#F0502B"/>
<rect x="29.6" y="441.4" width="20.5" height="2.9" fill="#E83A24"/>
<rect x="29.6" y="444.1" width="20.5" height="3.3" fill="#F25A30"/>
<rect x="29.6" y="447.3" width="20.5" height="2.9" fill="#E3301F"/>
<rect x="29.6" y="450.1" width="20.5" height="3.3" fill="#C4161C"/>
<rect x="29.6" y="453.2" width="20.5" height="2.5" fill="#F0502B"/>
<rect x="29.6" y="455.6" width="20.5" height="3.1" fill="#F46D43"/>
<rect x="29.6" y="458.5" width="20.5" height="2.1" fill="#EE4A2A"/>
<rect x="29.6" y="460.5" width="20.5" height="2.1" fill="#FDBE75"/>
<rect x="29.6" y="462.5" width="20.5" height="3.1" fill="#FDE9A0"/>
<rect x="29.6" y="465.4" width="20.5" height="3.1" fill="#FDC880"/>
<rect x="29.6" y="468.4" width="20.5" height="5.1" fill="#FEE09A"/>
<rect x="29.6" y="473.3" width="20.5" height="3.1" fill="#FDBE75"/>
<rect x="29.6" y="476.3" width="20.5" height="3.1" fill="#F67B4A"/>
<rect x="29.6" y="479.3" width="20.5" height="3.1" fill="#FA9A58"/>
<rect x="29.6" y="482.2" width="20.5" height="3.1" fill="#F0502B"/>
<rect x="29.6" y="485.2" width="20.5" height="1" fill="#F88A50"/>
<rect x="29.6" y="486" width="20.5" height="3.1" fill="#F46D43"/>
<rect x="29.6" y="489" width="20.5" height="4.7" fill="#F4683C"/>
<rect x="29.6" y="493.5" width="20.5" height="2.5" fill="#9BD66A"/>
<rect x="29.6" y="495.9" width="20.5" height="5.1" fill="#8FD168"/>
<rect x="29.6" y="500.8" width="20.5" height="4.1" fill="#A3DA6C"/>
<rect x="29.6" y="504.7" width="20.5" height="3.1" fill="#7ECB62"/>
<rect x="29.6" y="507.7" width="20.5" height="3.1" fill="#5DBE5C"/>
<rect x="29.6" y="510.7" width="20.5" height="2.1" fill="#1FA84C"/>
<rect x="29.6" y="512.6" width="20.5" height="2.1" fill="#5DBE5C"/>
<rect x="29.6" y="514.6" width="20.5" height="2.1" fill="#22A94D"/>
<rect x="29.6" y="516.6" width="20.5" height="2.1" fill="#6CC45E"/>
<rect x="29.6" y="518.5" width="20.5" height="2.7" fill="#9BD66A"/>
<rect x="29.6" y="521.1" width="20.5" height="3.5" fill="#BFE37A"/>
<rect x="29.6" y="524.5" width="20.5" height="2.1" fill="#A3DA6C"/>
<rect x="29.6" y="526.4" width="20.5" height="4.1" fill="#86CE65"/>
<rect x="29.6" y="530.4" width="20.5" height="3.1" fill="#5DBE5C"/>
<rect x="29.6" y="533.3" width="20.5" height="2.1" fill="#1FA84C"/>
<rect x="29.6" y="535.3" width="20.5" height="3.1" fill="#4DB858"/>
<rect x="29.6" y="538.3" width="20.5" height="3.1" fill="#7ECB62"/>
<rect x="29.6" y="541.2" width="20.5" height="3.5" fill="#5DBE5C"/>
<rect x="50" y="428.5" width="20.5" height="3.6" fill="#FDC47C"/>
<rect x="50" y="431.9" width="20.5" height="3.1" fill="#FDD08A"/>
<rect x="50" y="434.9" width="20.5" height="2.1" fill="#FDBE75"/>
<rect x="50" y="436.8" width="20.5" height="3.1" fill="#FDDC96"/>
<rect x="50" y="439.8" width="20.5" height="2.1" fill="#FBAA60"/>
<rect x="50" y="441.8" width="20.5" height="3.1" fill="#FDC880"/>
<rect x="50" y="444.7" width="20.5" height="2.1" fill="#FEE09A"/>
<rect x="50" y="446.7" width="20.5" height="3.1" fill="#FDC47C"/>
<rect x="50" y="449.7" width="20.5" height="4.1" fill="#FBEEA8"/>
<rect x="50" y="453.6" width="20.5" height="2.1" fill="#F0502B"/>
<rect x="50" y="455.6" width="20.5" height="2.1" fill="#F98E52"/>
<rect x="50" y="457.6" width="20.5" height="2.5" fill="#F4683C"/>
<rect x="50" y="459.9" width="20.5" height="1.7" fill="#DC2C1F"/>
<rect x="50" y="461.5" width="20.5" height="3.1" fill="#FDDC96"/>
<rect x="50" y="464.5" width="20.5" height="3.1" fill="#FDC47C"/>
<rect x="50" y="467.4" width="20.5" height="3.1" fill="#FBA55A"/>
<rect x="50" y="470.4" width="20.5" height="3.1" fill="#FDC47C"/>
<rect x="50" y="473.3" width="20.5" height="3.1" fill="#FA9A58"/>
<rect x="50" y="476.3" width="20.5" height="3.1" fill="#F67B4A"/>
<rect x="50" y="479.3" width="20.5" height="3.1" fill="#FDC47C"/>
<rect x="50" y="482.2" width="20.5" height="2.1" fill="#FBA55A"/>
<rect x="50" y="484.2" width="20.5" height="2" fill="#F25A30"/>
<rect x="50" y="486" width="20.5" height="2.1" fill="#FDC47C"/>
<rect x="50" y="488" width="20.5" height="2.1" fill="#FBA55A"/>
<rect x="50" y="489.9" width="20.5" height="3.7" fill="#F98E52"/>
<rect x="50" y="493.5" width="20.5" height="3.5" fill="#9BD66A"/>
<rect x="50" y="496.8" width="20.5" height="3.1" fill="#A3DA6C"/>
<rect x="50" y="499.8" width="20.5" height="3.1" fill="#9BD66A"/>
<rect x="50" y="502.8" width="20.5" height="3.1" fill="#7ECB62"/>
<rect x="50" y="505.7" width="20.5" height="3.1" fill="#86CE65"/>
<rect x="50" y="508.7" width="20.5" height="2.1" fill="#6CC45E"/>
<rect x="50" y="510.7" width="20.5" height="2.1" fill="#4DB858"/>
<rect x="50" y="512.6" width="20.5" height="3.1" fill="#86CE65"/>
<rect x="50" y="515.6" width="20.5" height="3.1" fill="#6CC45E"/>
<rect x="50" y="518.5" width="20.5" height="3.1" fill="#9BD66A"/>
<rect x="50" y="521.5" width="20.5" height="3.1" fill="#B1DF74"/>
<rect x="50" y="524.5" width="20.5" height="3.1" fill="#9BD66A"/>
<rect x="50" y="527.4" width="20.5" height="4.1" fill="#8FD168"/>
<rect x="50" y="531.4" width="20.5" height="2.1" fill="#5DBE5C"/>
<rect x="50" y="533.3" width="20.5" height="3.1" fill="#8FD168"/>
<rect x="50" y="536.3" width="20.5" height="4.1" fill="#9BD66A"/>
<rect x="50" y="540.2" width="20.5" height="2.1" fill="#86CE65"/>
<rect x="50" y="542.2" width="20.5" height="2.5" fill="#5DBE5C"/>
<rect x="70.3" y="428.5" width="20.5" height="3.6" fill="#EEF2A6"/>
<rect x="70.3" y="431.9" width="20.5" height="4.1" fill="#FBF0AA"/>
<rect x="70.3" y="435.9" width="20.5" height="2.5" fill="#FDD48E"/>
<rect x="70.3" y="438.2" width="20.5" height="3.7" fill="#FBF0AA"/>
<rect x="70.3" y="441.8" width="20.5" height="3.1" fill="#FDC880"/>
<rect x="70.3" y="444.7" width="20.5" height="3.1" fill="#FEE09A"/>
<rect x="70.3" y="447.7" width="20.5" height="3.1" fill="#FDBE75"/>
<rect x="70.3" y="450.7" width="20.5" height="3.1" fill="#FBF0AA"/>
<rect x="70.3" y="453.6" width="20.5" height="2.1" fill="#F67B4A"/>
<rect x="70.3" y="455.6" width="20.5" height="3.1" fill="#E6F0A0"/>
<rect x="70.3" y="458.5" width="20.5" height="2.7" fill="#F6F0A8"/>
<rect x="70.3" y="461.1" width="20.5" height="2.5" fill="#E2341F"/>
<rect x="70.3" y="463.5" width="20.5" height="4.1" fill="#C8181D"/>
<rect x="70.3" y="467.4" width="20.5" height="3.1" fill="#DE2E1F"/>
<rect x="70.3" y="470.4" width="20.5" height="3.1" fill="#F0502B"/>
<rect x="70.3" y="473.3" width="20.5" height="3.1" fill="#F46D43"/>
<rect x="70.3" y="476.3" width="20.5" height="3.1" fill="#EC4628"/>
<rect x="70.3" y="479.3" width="20.5" height="3.1" fill="#F88A50"/>
<rect x="70.3" y="482.2" width="20.5" height="3.1" fill="#F46D43"/>
<rect x="70.3" y="485.2" width="20.5" height="1" fill="#F88A50"/>
<rect x="70.3" y="486" width="20.5" height="3.1" fill="#F0502B"/>
<rect x="70.3" y="489" width="20.5" height="4.7" fill="#F46D43"/>
<rect x="70.3" y="493.5" width="20.5" height="2.5" fill="#8FD168"/>
<rect x="70.3" y="495.9" width="20.5" height="3.1" fill="#9BD66A"/>
<rect x="70.3" y="498.8" width="20.5" height="3.1" fill="#A3DA6C"/>
<rect x="70.3" y="501.8" width="20.5" height="4.1" fill="#8FD168"/>
<rect x="70.3" y="505.7" width="20.5" height="3.1" fill="#7ECB62"/>
<rect x="70.3" y="508.7" width="20.5" height="3.1" fill="#86CE65"/>
<rect x="70.3" y="511.6" width="20.5" height="3.1" fill="#6CC45E"/>
<rect x="70.3" y="514.6" width="20.5" height="3.1" fill="#7ECB62"/>
<rect x="70.3" y="517.6" width="20.5" height="3.1" fill="#8FD168"/>
<rect x="70.3" y="520.5" width="20.5" height="4.1" fill="#A3DA6C"/>
<rect x="70.3" y="524.5" width="20.5" height="4.1" fill="#8FD168"/>
<rect x="70.3" y="528.4" width="20.5" height="4.1" fill="#7ECB62"/>
<rect x="70.3" y="532.4" width="20.5" height="3.1" fill="#86CE65"/>
<rect x="70.3" y="535.3" width="20.5" height="3.1" fill="#3DB254"/>
<rect x="70.3" y="538.3" width="20.5" height="3.1" fill="#6CC45E"/>
<rect x="70.3" y="541.2" width="20.5" height="3.5" fill="#5DBE5C"/>
<rect x="90.7" y="428.5" width="20.5" height="3.6" fill="#A3DA6C"/>
<rect x="90.7" y="431.9" width="20.5" height="3.1" fill="#B8E176"/>
<rect x="90.7" y="434.9" width="20.5" height="3.1" fill="#9BD66A"/>
<rect x="90.7" y="437.8" width="20.5" height="2.1" fill="#8FD168"/>
<rect x="90.7" y="439.8" width="20.5" height="3.1" fill="#B8E176"/>
<rect x="90.7" y="442.8" width="20.5" height="3.1" fill="#9BD66A"/>
<rect x="90.7" y="445.7" width="20.5" height="2.5" fill="#6CC45E"/>
<rect x="90.7" y="448.1" width="20.5" height="2.7" fill="#4DB858"/>
<rect x="90.7" y="450.7" width="20.5" height="3.1" fill="#86CE65"/>
<rect x="90.7" y="453.6" width="20.5" height="2.1" fill="#9BD66A"/>
<rect x="90.7" y="455.6" width="20.5" height="2.1" fill="#5DBE5C"/>
<rect x="90.7" y="457.6" width="20.5" height="3.1" fill="#86CE65"/>
<rect x="90.7" y="460.5" width="20.5" height="3.1" fill="#9BD66A"/>
<rect x="90.7" y="463.5" width="20.5" height="3.1" fill="#86CE65"/>
<rect x="90.7" y="466.4" width="20.5" height="3.1" fill="#3DB254"/>
<rect x="90.7" y="469.4" width="20.5" height="3.1" fill="#5DBE5C"/>
<rect x="90.7" y="472.4" width="20.5" height="3.1" fill="#2DAD50"/>
<rect x="90.7" y="475.3" width="20.5" height="3.1" fill="#6CC45E"/>
<rect x="90.7" y="478.3" width="20.5" height="3.1" fill="#1FA84C"/>
<rect x="90.7" y="481.2" width="20.5" height="3.1" fill="#4DB858"/>
<rect x="90.7" y="484.2" width="20.5" height="2" fill="#7ECB62"/>
<rect x="90.7" y="486" width="20.5" height="2.5" fill="#86CE65"/>
<rect x="90.7" y="488.4" width="20.5" height="2.7" fill="#3DB254"/>
<rect x="90.7" y="490.9" width="20.5" height="2.1" fill="#6CC45E"/>
<rect x="90.7" y="492.9" width="20.5" height="3.1" fill="#E4F0A0"/>
<rect x="90.7" y="495.9" width="20.5" height="2.5" fill="#FDD48E"/>
<rect x="90.7" y="498.2" width="20.5" height="2.7" fill="#C8E67E"/>
<rect x="90.7" y="500.8" width="20.5" height="3.1" fill="#A8DC70"/>
<rect x="90.7" y="503.8" width="20.5" height="2.1" fill="#F6F0A8"/>
<rect x="90.7" y="505.7" width="20.5" height="3.1" fill="#C2E47A"/>
<rect x="90.7" y="508.7" width="20.5" height="2.7" fill="#FBEEA8"/>
<rect x="90.7" y="511.2" width="20.5" height="3.5" fill="#FDD48E"/>
<rect x="90.7" y="514.6" width="20.5" height="4.1" fill="#FBF0AA"/>
<rect x="90.7" y="518.5" width="20.5" height="3.1" fill="#DA2A1F"/>
<rect x="90.7" y="521.5" width="20.5" height="5.1" fill="#BE131B"/>
<rect x="90.7" y="526.4" width="20.5" height="3.1" fill="#DE2E1F"/>
<rect x="90.7" y="529.4" width="20.5" height="2.5" fill="#EE4A2A"/>
<rect x="90.7" y="531.8" width="20.5" height="2.7" fill="#F4683C"/>
<rect x="90.7" y="534.3" width="20.5" height="2.1" fill="#FA9A58"/>
<rect x="90.7" y="536.3" width="20.5" height="2.1" fill="#FDC47C"/>
<rect x="90.7" y="538.3" width="20.5" height="2.1" fill="#F46D43"/>
<rect x="90.7" y="540.2" width="20.5" height="3.1" fill="#D7281F"/>
<rect x="90.7" y="543.2" width="20.5" height="1.6" fill="#F25A30"/>
<rect x="111.1" y="428.5" width="20.5" height="4.6" fill="#A3DA6C"/>
<rect x="111.1" y="432.9" width="20.5" height="3.1" fill="#9BD66A"/>
<rect x="111.1" y="435.9" width="20.5" height="3.1" fill="#A3DA6C"/>
<rect x="111.1" y="438.8" width="20.5" height="2.1" fill="#6CC45E"/>
<rect x="111.1" y="440.8" width="20.5" height="3.1" fill="#4DB858"/>
<rect x="111.1" y="443.8" width="20.5" height="2.1" fill="#86CE65"/>
<rect x="111.1" y="445.7" width="20.5" height="4.1" fill="#A3DA6C"/>
<rect x="111.1" y="449.7" width="20.5" height="4.1" fill="#9BD66A"/>
<rect x="111.1" y="453.6" width="20.5" height="3.1" fill="#86CE65"/>
<rect x="111.1" y="456.6" width="20.5" height="2.1" fill="#5DBE5C"/>
<rect x="111.1" y="458.5" width="20.5" height="3.1" fill="#86CE65"/>
<rect x="111.1" y="461.5" width="20.5" height="4.1" fill="#A3DA6C"/>
<rect x="111.1" y="465.4" width="20.5" height="3.1" fill="#C2E47A"/>
<rect x="111.1" y="468.4" width="20.5" height="3.1" fill="#A3DA6C"/>
<rect x="111.1" y="471.4" width="20.5" height="3.1" fill="#86CE65"/>
<rect x="111.1" y="474.3" width="20.5" height="2.1" fill="#B1DF74"/>
<rect x="111.1" y="476.3" width="20.5" height="3.1" fill="#7ECB62"/>
<rect x="111.1" y="479.3" width="20.5" height="3.1" fill="#5DBE5C"/>
<rect x="111.1" y="482.2" width="20.5" height="3.1" fill="#7ECB62"/>
<rect x="111.1" y="485.2" width="20.5" height="1" fill="#86CE65"/>
<rect x="111.1" y="486" width="20.5" height="2.1" fill="#9BD66A"/>
<rect x="111.1" y="488" width="20.5" height="2.5" fill="#5DBE5C"/>
<rect x="111.1" y="490.3" width="20.5" height="2.7" fill="#7ECB62"/>
<rect x="111.1" y="492.9" width="20.5" height="3.1" fill="#FBEEA8"/>
<rect x="111.1" y="495.9" width="20.5" height="3.1" fill="#FDD08A"/>
<rect x="111.1" y="498.8" width="20.5" height="4.1" fill="#FEE09A"/>
<rect x="111.1" y="502.8" width="20.5" height="3.1" fill="#F4683C"/>
<rect x="111.1" y="505.7" width="20.5" height="2.5" fill="#FA9A58"/>
<rect x="111.1" y="508.1" width="20.5" height="2.7" fill="#F67B4A"/>
<rect x="111.1" y="510.7" width="20.5" height="3.1" fill="#FBA55A"/>
<rect x="111.1" y="513.6" width="20.5" height="2.1" fill="#EE4A2A"/>
<rect x="111.1" y="515.6" width="20.5" height="3.1" fill="#C4161C"/>
<rect x="111.1" y="518.5" width="20.5" height="3.1" fill="#FDC47C"/>
<rect x="111.1" y="521.5" width="20.5" height="3.1" fill="#FBEEA8"/>
<rect x="111.1" y="524.5" width="20.5" height="3.1" fill="#FDD08A"/>
<rect x="111.1" y="527.4" width="20.5" height="2.5" fill="#F9F0A5"/>
<rect x="111.1" y="529.8" width="20.5" height="2.7" fill="#FDC47C"/>
<rect x="111.1" y="532.4" width="20.5" height="3.1" fill="#FBA55A"/>
<rect x="111.1" y="535.3" width="20.5" height="2.5" fill="#FEE09A"/>
<rect x="111.1" y="537.7" width="20.5" height="2.1" fill="#FA9A58"/>
<rect x="111.1" y="539.6" width="20.5" height="2.7" fill="#E6F0A0"/>
<rect x="111.1" y="542.2" width="20.5" height="2.5" fill="#FDD08A"/>
<rect x="131.4" y="428.5" width="20.5" height="4.6" fill="#9BD66A"/>
<rect x="131.4" y="432.9" width="20.5" height="3.1" fill="#8FD168"/>
<rect x="131.4" y="435.9" width="20.5" height="2.5" fill="#6CC45E"/>
<rect x="131.4" y="438.2" width="20.5" height="2.1" fill="#3DB254"/>
<rect x="131.4" y="440.2" width="20.5" height="2.7" fill="#6CC45E"/>
<rect x="131.4" y="442.8" width="20.5" height="3.1" fill="#4DB858"/>
<rect x="131.4" y="445.7" width="20.5" height="3.1" fill="#86CE65"/>
<rect x="131.4" y="448.7" width="20.5" height="3.1" fill="#A3DA6C"/>
<rect x="131.4" y="451.6" width="20.5" height="3.1" fill="#9BD66A"/>
<rect x="131.4" y="454.6" width="20.5" height="3.1" fill="#7ECB62"/>
<rect x="131.4" y="457.6" width="20.5" height="2.5" fill="#3DB254"/>
<rect x="131.4" y="459.9" width="20.5" height="2.7" fill="#7ECB62"/>
<rect x="131.4" y="462.5" width="20.5" height="4.1" fill="#9BD66A"/>
<rect x="131.4" y="466.4" width="20.5" height="3.1" fill="#A3DA6C"/>
<rect x="131.4" y="469.4" width="20.5" height="3.1" fill="#B1DF74"/>
<rect x="131.4" y="472.4" width="20.5" height="2.7" fill="#6CC45E"/>
<rect x="131.4" y="474.9" width="20.5" height="2.1" fill="#3DB254"/>
<rect x="131.4" y="476.9" width="20.5" height="3.5" fill="#86CE65"/>
<rect x="131.4" y="480.2" width="20.5" height="3.1" fill="#6CC45E"/>
<rect x="131.4" y="483.2" width="20.5" height="3" fill="#7ECB62"/>
<rect x="131.4" y="486" width="20.5" height="5.1" fill="#22A94D"/>
<rect x="131.4" y="490.9" width="20.5" height="2.1" fill="#4DB858"/>
<rect x="131.4" y="492.9" width="20.5" height="10" fill="#BA121B"/>
<rect x="131.4" y="502.8" width="20.5" height="3.1" fill="#F0502B"/>
<rect x="131.4" y="505.7" width="20.5" height="2.5" fill="#E2341F"/>
<rect x="131.4" y="508.1" width="20.5" height="2.1" fill="#C4161C"/>
<rect x="131.4" y="510.1" width="20.5" height="2.7" fill="#E2341F"/>
<rect x="131.4" y="512.6" width="20.5" height="2.7" fill="#F46D43"/>
<rect x="131.4" y="515.2" width="20.5" height="2.5" fill="#FEE09A"/>
<rect x="131.4" y="517.6" width="20.5" height="3.1" fill="#FBF0AA"/>
<rect x="131.4" y="520.5" width="20.5" height="3.1" fill="#EEF2A6"/>
<rect x="131.4" y="523.5" width="20.5" height="3.1" fill="#F9F0A5"/>
<rect x="131.4" y="526.4" width="20.5" height="3.1" fill="#FDD48E"/>
<rect x="131.4" y="529.4" width="20.5" height="2.5" fill="#FBF0AA"/>
<rect x="131.4" y="531.8" width="20.5" height="2.7" fill="#F25A30"/>
<rect x="131.4" y="534.3" width="20.5" height="2.7" fill="#F46D43"/>
<rect x="131.4" y="536.9" width="20.5" height="2.5" fill="#EC4628"/>
<rect x="131.4" y="539.3" width="20.5" height="2.1" fill="#FA9A58"/>
<rect x="131.4" y="541.2" width="20.5" height="3.5" fill="#F67B4A"/>
<rect x="29.6" y="425.8" width="61.1" height="2.2" fill="#F2631F"/>
<rect x="90.7" y="425.8" width="61.1" height="2.2" fill="#1B9E8A"/>
<path d="M60.2 425.4V421.8H80.5V425.4M39.8 425.4V419.7H70.3V421.8M121.3 425.4V421.8H141.6V425.4M100.9 425.4V419.3H131.4V421.8M55.1 419.7V412.4H116.2V419.3" stroke="#555" stroke-width="0.6" fill="none"/>
<path d="M29.4 428.8H27.5V429.5H29.4M27.5 429.1H27V430.6H29.4M29.4 431.5H27.4V432.3H29.4M27.4 431.9H27V433.3H29.4M27 429.8H26V432.6H27M29.4 435.4H27.4V436.2H29.4M27.4 435.8H27V436.7H29.4M29.4 434.3H26.6V436.3H27M29.4 438.2H27.5V439.1H29.4M29.4 437.5H27.1V438.7H27.5M26.6 435.3H26.2V438.1H27.1M26 431.2H25.3V436.7H26.2M29.4 441.2H27.5V441.8H29.4M29.4 440.1H27V441.5H27.5M29.4 442.5H27.5V443.2H29.4M29.4 443.8H27.4V444.5H29.4M27.5 442.8H26.9V444.1H27.4M27 440.8H26V443.5H26.9M25.3 433.9H23.6V442.1H26M29.4 446.1H27.4V446.9H29.4M29.4 445.4H27V446.5H27.4M29.4 448.9H27.5V449.6H29.4M29.4 447.9H27.1V449.3H27.5M29.4 450.1H27.4V450.8H29.4M27.1 448.6H26.7V450.4H27.4M27 446H25.6V449.5H26.7M29.4 453H27.5V453.7H29.4M27.5 453.3H27.1V454.6H29.4M29.4 451.9H26.7V453.9H27.1M29.4 455.5H27.4V456.4H29.4M27.4 456H27V457.7H29.4M29.4 458.5H27.4V459.3H29.4M27 456.8H26.6V458.9H27.4M26.7 452.9H25.3V457.9H26.6M25.6 447.7H24.2V455.4H25.3M23.6 438H22.9V451.6H24.2M29.4 460.1H27.5V460.8H29.4M29.4 462.7H27.4V463.5H29.4M29.4 461.6H27V463.1H27.4M27.5 460.4H26.5V462.4H27M29.4 465.3H27.3V466.3H29.4M29.4 464.3H26.8V465.8H27.3M26.5 461.4H26V465H26.8M29.4 467.2H27.5V467.9H29.4M29.4 468.6H27.3V469.7H29.4M27.5 467.6H26.9V469.2H27.3M29.4 471.9H27.4V472.8H29.4M29.4 470.9H27V472.4H27.4M29.4 473.7H27.4V474.6H29.4M27.4 474.1H27V475.4H29.4M27 471.6H26.3V474.8H27M26.9 468.4H25.5V473.2H26.3M29.4 476.1H27.5V477H29.4M27.5 476.6H27V477.9H29.4M29.4 478.9H27.5V479.5H29.4M27 477.3H26.4V479.2H27.5M25.5 470.8H24V478.2H26.4M26 463.2H23.3V474.5H24M29.4 481H27.5V481.7H29.4M29.4 480.1H27.1V481.3H27.5M29.4 482.5H27.4V483.4H29.4M29.4 485H27.4V485.7H29.4M29.4 484.2H27V485.4H27.4M27.4 482.9H26.6V484.8H27M27.1 480.7H25.8V483.9H26.6M29.4 487.8H27.5V488.5H29.4M29.4 486.7H27.1V488.1H27.5M29.4 489.2H27.3V490.2H29.4M27.1 487.4H26.6V489.7H27.3M29.4 492.2H27.4V493H29.4M29.4 491.4H27V492.6H27.4M26.6 488.6H25.7V492H27M25.8 482.3H23.8V490.3H25.7M23.3 468.9H21.2V486.3H23.8M22.9 444.8H20.2V477.6H21.2M29.4 493.8H27.3V494.6H29.4M29.4 495.5H27.4V496.3H29.4M27.4 495.9H27V497.1H29.4M29.4 498H27.4V498.8H29.4M27 496.5H26.4V498.4H27.4M27.3 494.2H26V497.4H26.4M29.4 499.7H27.2V500.7H29.4M27.2 500.2H26.8V501.7H29.4M29.4 502.5H27.5V503.2H29.4M27.5 502.9H27.1V504H29.4M26.8 501H26V503.4H27.1M29.4 504.8H27.5V505.5H29.4M27.5 505.2H27.1V506.2H29.4M29.4 508.2H27.5V508.9H29.4M29.4 507.2H27.1V508.5H27.5M27.1 505.7H26.2V507.9H27.1M26 502.2H24.5V506.8H26.2M26 495.8H23.5V504.5H24.5M29.4 509.8H27.2V510.9H29.4M29.4 511.9H27.5V512.6H29.4M27.2 510.4H26.6V512.3H27.5M29.4 513.3H27.5V514H29.4M29.4 516H27.3V517H29.4M29.4 514.9H26.9V516.5H27.3M27.5 513.6H26.3V515.7H26.9M26.6 511.3H25.6V514.7H26.3M29.4 517.7H27.4V518.6H29.4M29.4 519.3H27.4V520.1H29.4M29.4 520.9H27.5V521.5H29.4M27.5 521.2H27.1V522.4H29.4M27.4 519.7H26.6V521.8H27.1M27.4 518.1H26.2V520.8H26.6M25.6 513H24.4V519.4H26.2M23.5 500.2H21.9V516.2H24.4M29.4 524.2H27.5V524.8H29.4M29.4 523.4H27.1V524.5H27.5M29.4 525.9H27.3V526.9H29.4M27.1 524H26.3V526.4H27.3M29.4 528.3H27.5V529H29.4M29.4 527.6H27.1V528.6H27.5M29.4 529.7H27.5V530.4H29.4M29.4 531.1H27.4V531.9H29.4M27.5 530.1H26.8V531.5H27.4M27.1 528.1H26.3V530.8H26.8M26.3 525.2H25.5V529.5H26.3M29.4 532.9H27.5V533.6H29.4M29.4 534.5H27.3V535.5H29.4M29.4 536.4H27.5V537.1H29.4M27.3 535H26.9V536.7H27.5M27.5 533.3H26.3V535.8H26.9M25.5 527.3H24.8V534.5H26.3M29.4 537.7H27.4V538.6H29.4M29.4 539.5H27.4V540.3H29.4M27.4 539.9H27V541.3H29.4M27.4 538.1H26.3V540.6H27M29.4 542.5H27.4V543.4H29.4M27.4 542.9H27V544.2H29.4M26.3 539.4H25.9V543.5H27M24.8 530.9H24V541.5H25.9M21.9 508.2H21.2V536.2H24M20.2 461.2H18.2V522.2H21.2" stroke="#444" stroke-width="0.45" fill="none"/>
<path d="M29.4 428.80h-3.7v0.7M29.4 429.39h-3.6M29.4 430.08h-3.8v1.2M29.4 430.90h-2M29.4 431.64h-2.1v1.1M29.4 432.45h-2.8M29.4 433.25h-3.9M29.4 433.89h-3.5v1.1M29.4 434.66h-3.5M29.4 435.20h-4.1M29.4 436.04h-3.2M29.4 436.62h-4.2M29.4 437.21h-2v1M29.4 437.97h-3.1v1.2M29.4 438.44h-3.9v0.8M29.4 439.21h-2.2v1M29.4 439.95h-4M29.4 440.77h-3.1M29.4 441.26h-2.4M29.4 441.82h-3.7M29.4 442.48h-4M29.4 443.06h-2.8M29.4 443.87h-2.3M29.4 444.71h-3.2M29.4 445.24h-3.2M29.4 445.93h-1.9M29.4 446.58h-2.8M29.4 447.26h-3.1M29.4 447.74h-3.2v1.4M29.4 448.56h-2.5v0.6M29.4 449.18h-3.9M29.4 449.82h-2.6v1.1M29.4 450.64h-2.1M29.4 451.10h-2.3v1.1M29.4 451.68h-2.7M29.4 452.17h-3.7v1M29.4 452.72h-2.3M29.4 453.34h-2.8v1M29.4 453.86h-2.3M29.4 454.56h-3.2M29.4 455.26h-4v1.2M29.4 456.03h-4.1v0.8M29.4 456.85h-2.4M29.4 457.66h-2.1v1.2M29.4 458.21h-2.1M29.4 458.83h-3.9v0.9M29.4 459.55h-1.8v1.1M29.4 460.37h-4.3v1M29.4 461.12h-3.1M29.4 461.65h-2v0.5M29.4 462.32h-3.1M29.4 462.83h-2.3v1.3M29.4 463.67h-4.2v0.6M29.4 464.50h-3M29.4 465.08h-3M29.4 465.71h-3.4v1.1M29.4 466.49h-2.3v1.2M29.4 467.11h-2.3v1M29.4 467.56h-4.1M29.4 468.29h-4M29.4 468.91h-3.4M29.4 469.75h-3.9v1.3M29.4 470.50h-3.8M29.4 471.11h-4.1M29.4 471.84h-3.8M29.4 472.45h-3.7v0.8M29.4 473.09h-1.8v1.1M29.4 473.79h-2.4M29.4 474.50h-2.7M29.4 475.18h-3.2v1.4M29.4 475.89h-3.6M29.4 476.73h-1.9M29.4 477.47h-2.5v0.5M29.4 478.00h-2.8v0.7M29.4 478.81h-3.2M29.4 479.65h-3.3M29.4 480.36h-3.9v1M29.4 481.11h-1.9M29.4 481.62h-3v0.9M29.4 482.32h-2M29.4 482.94h-3.2M29.4 483.53h-2.5M29.4 484.21h-2.5M29.4 484.78h-1.8v0.5M29.4 485.29h-3.8v1.3M29.4 486.04h-1.9M29.4 486.87h-2M29.4 487.49h-3M29.4 488.04h-3.2M29.4 488.77h-3M29.4 489.55h-3.4v1.1M29.4 490.18h-2.3v1M29.4 490.68h-3M29.4 491.32h-2.5M29.4 491.93h-3.8M29.4 492.78h-4.3M29.4 493.33h-2.1M29.4 494.09h-3.4v0.7M29.4 494.82h-3.3M29.4 495.52h-3.8v0.7M29.4 496.36h-4.2M29.4 496.83h-2v0.9M29.4 497.53h-2.1M29.4 498.00h-2M29.4 498.67h-3.4v0.9M29.4 499.21h-2.7M29.4 499.99h-2v1.2M29.4 500.69h-3.8v0.9M29.4 501.25h-3.9v1.1M29.4 502.09h-2.6M29.4 502.84h-4.2v0.8M29.4 503.33h-4.1v0.6M29.4 504.01h-3.1M29.4 504.58h-3.8v0.7M29.4 505.29h-2v1.2M29.4 506.02h-2.5v0.8M29.4 506.76h-2.8v1.1M29.4 507.44h-4.2M29.4 508.25h-2.9M29.4 508.82h-2.6v1.3M29.4 509.63h-2.4v0.8M29.4 510.23h-2.8v0.7M29.4 510.90h-3.9M29.4 511.69h-3.3v1.2M29.4 512.49h-2.5v1M29.4 513.16h-3.3M29.4 513.87h-3.9v1M29.4 514.63h-2v1.2M29.4 515.44h-2M29.4 515.95h-3.7M29.4 516.50h-2.4M29.4 517.16h-3.8v0.8M29.4 517.99h-3.5v1M29.4 518.73h-3.6M29.4 519.35h-3.9M29.4 520.14h-3.9M29.4 520.94h-4.3M29.4 521.60h-3.6M29.4 522.22h-2.9v1.2M29.4 523.07h-2.8v0.7M29.4 523.69h-2.6M29.4 524.16h-2.6v1.1M29.4 524.92h-2.3v0.9M29.4 525.60h-4.2v0.6M29.4 526.13h-2.4v1.1M29.4 526.82h-2.4v0.8M29.4 527.34h-3.8v1M29.4 528.11h-3v1.3M29.4 528.93h-2.7M29.4 529.76h-3.1v0.5M29.4 530.59h-3.9v1M29.4 531.25h-2.5M29.4 531.96h-2.4v0.9M29.4 532.56h-3.9M29.4 533.25h-2.2v0.8M29.4 533.80h-4.1M29.4 534.51h-4.4v1M29.4 535.02h-3.8v1.2M29.4 535.81h-3.9v0.7M29.4 536.54h-2.1v0.9M29.4 537.38h-3.3M29.4 537.95h-3.9v1.3M29.4 538.43h-3.9v1M29.4 539.09h-2.2M29.4 539.67h-2.6v0.8M29.4 540.31h-3.7v1.1M29.4 540.80h-2.8v1.4M29.4 541.58h-3.5v0.8M29.4 542.31h-2.4M29.4 542.95h-1.8M29.4 543.72h-2.3M29.4 544.28h-2.8" stroke="#000" stroke-width="0.38" fill="none"/>
<rect x="28" y="428.8" width="1.5" height="115.5" fill="#111"/>
<rect x="152.9" y="419.3" width="2.6" height="3.5" fill="#1B9E8A"/>
<rect x="152.9" y="423.2" width="2.6" height="3.5" fill="#F2681F"/>
<text x="156.8" y="422.4" font-size="3.9" text-anchor="start" font-weight="bold" stroke="#111" stroke-width="0.12">Control</text>
<text x="156.8" y="426.3" font-size="3.9" text-anchor="start" font-weight="bold" stroke="#111" stroke-width="0.12">Cu-toxicity</text>
<defs><linearGradient id="cb" x1="0" y1="0" x2="0" y2="1"><stop offset="0" stop-color="#B2101B"/><stop offset="0.18" stop-color="#EE4A2A"/><stop offset="0.36" stop-color="#FDB366"/><stop offset="0.5" stop-color="#FBF0AA"/><stop offset="0.64" stop-color="#B8E176"/><stop offset="0.82" stop-color="#4DB858"/><stop offset="1" stop-color="#0B7A3A"/></linearGradient></defs>
<rect x="152.9" y="428.9" width="2.1" height="34.8" fill="url(#cb)"/>
<text x="156.2" y="430.8" font-size="3.2" text-anchor="start" font-weight="bold" font-style="italic">2</text>
<text x="156.2" y="438.7" font-size="3.2" text-anchor="start" font-weight="bold" font-style="italic">1</text>
<text x="156.2" y="447.1" font-size="3.2" text-anchor="start" font-weight="bold" font-style="italic">0</text>
<text x="156.2" y="455.7" font-size="3.2" text-anchor="start" font-weight="bold" font-style="italic">-1</text>
<text x="156.2" y="463.8" font-size="3.2" text-anchor="start" font-weight="bold" font-style="italic">-2</text>
<text x="17.5" y="421.2" font-size="9.8" text-anchor="start" font-weight="bold" stroke="#111" stroke-width="0.25">D</text>
</g>
</svg>
</body></html>
